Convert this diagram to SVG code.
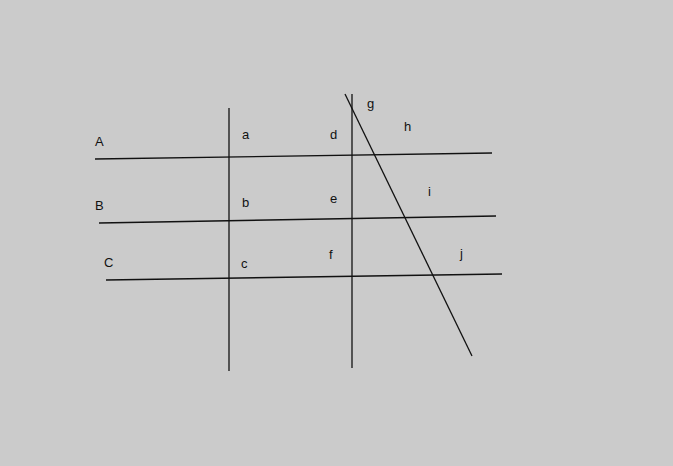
<svg xmlns="http://www.w3.org/2000/svg" width="673" height="466" viewBox="0 0 673 466">
<style>
.ln{stroke:#111;stroke-width:1.3;fill:none}
.t{font-family:"Liberation Sans",Arial,sans-serif;font-size:13px;fill:#111}
</style>
<rect width="673" height="466" fill="#cbcbcb"/>
<g id="connectors">
<line class="ln" x1="95" y1="159" x2="492" y2="153"/>
<line class="ln" x1="99" y1="223" x2="496" y2="216"/>
<line class="ln" x1="106" y1="280" x2="502" y2="274"/>
<line class="ln" x1="229" y1="108" x2="229" y2="371"/>
<line class="ln" x1="352" y1="94" x2="352" y2="368"/>
<line class="ln" x1="345" y1="94" x2="472" y2="356"/>
</g>
<g id="labels">
<text class="t" x="95" y="146">A</text>
<text class="t" x="95" y="210">B</text>
<text class="t" x="104" y="267">C</text>
<text class="t" x="242" y="139">a</text>
<text class="t" x="242" y="207">b</text>
<text class="t" x="241" y="268">c</text>
<text class="t" x="330" y="139">d</text>
<text class="t" x="330" y="203">e</text>
<text class="t" x="329" y="259">f</text>
<text class="t" x="367" y="108">g</text>
<text class="t" x="404" y="131">h</text>
<text class="t" x="428" y="196">i</text>
<text class="t" x="460" y="258">j</text>
</g>
</svg>
